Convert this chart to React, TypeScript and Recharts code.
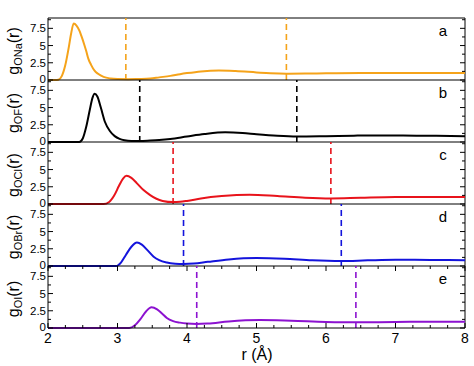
import { LineChart, Line, XAxis, YAxis, ReferenceLine } from "recharts";

// shared axis ticks
const X_TICKS = [
  2, 2.25, 2.5, 2.75, 3, 3.25, 3.5, 3.75, 4, 4.25, 4.5, 4.75, 5, 5.25, 5.5, 5.75, 6,
  6.25, 6.5, 6.75, 7, 7.25, 7.5, 7.75, 8,
];
const Y_TICKS = [0, 1.25, 2.5, 3.75, 5, 6.25, 7.5, 8.75];
const Y_LABELS = [0, 2.5, 5, 7.5];

// g_ONa(r)
const R_ONA = [2, 2.1, 2.15, 2.2, 2.25, 2.3, 2.33, 2.37, 2.41, 2.45, 2.48, 2.52, 2.55, 2.58, 2.62, 2.67, 2.72, 2.8, 2.9, 3.0, 3.15, 3.3, 3.47, 3.6, 3.76, 3.9, 4.0, 4.2, 4.46, 4.7, 5.0, 5.2, 5.43, 5.7, 6.0, 6.5, 7.0, 7.5, 8.0];
const G_ONA = [0, 0, 0.05, 0.6, 2.2, 4.8, 6.6, 8.2, 7.9, 7.2, 6.4, 5.2, 4.2, 3.1, 2.2, 1.35, 0.9, 0.45, 0.22, 0.14, 0.12, 0.15, 0.2, 0.38, 0.6, 0.85, 1.0, 1.25, 1.38, 1.3, 1.1, 0.98, 0.92, 0.93, 0.97, 1.0, 1.01, 1.0, 1.0];

// g_OF(r)
const R_OF = [2, 2.45, 2.5, 2.55, 2.6, 2.64, 2.67, 2.71, 2.76, 2.82, 2.89, 2.96, 3.03, 3.1, 3.2, 3.32, 3.47, 3.6, 3.76, 4.0, 4.25, 4.55, 4.8, 5.0, 5.3, 5.58, 6.0, 6.4, 6.8, 7.3, 8.0];
const G_OF = [0, 0, 0.5, 2.2, 4.6, 6.4, 7.0, 6.6, 5.0, 2.9, 1.6, 0.85, 0.45, 0.25, 0.15, 0.15, 0.22, 0.3, 0.45, 0.8, 1.15, 1.4, 1.3, 1.12, 0.9, 0.8, 0.85, 0.92, 0.96, 0.92, 0.85];

// g_OCl(r)
const R_OCL = [2, 2.8, 2.88, 2.95, 3.02, 3.08, 3.13, 3.2, 3.28, 3.37, 3.47, 3.56, 3.65, 3.8, 3.9, 4.0, 4.2, 4.5, 4.9, 5.3, 5.7, 6.07, 6.5, 7.0, 7.5, 8.0];
const G_OCL = [0, 0, 0.3, 1.2, 2.6, 3.7, 4.1, 3.8, 3.0, 2.06, 1.3, 0.76, 0.45, 0.28, 0.32, 0.45, 0.8, 1.15, 1.35, 1.15, 0.9, 0.8, 0.9, 1.0, 1.02, 1.0];

// g_OBr(r)
const R_OBR = [2, 2.98, 3.05, 3.12, 3.2, 3.28, 3.35, 3.43, 3.52, 3.6, 3.71, 3.83, 3.95, 4.1, 4.3, 4.6, 5.0, 5.4, 5.8, 6.22, 6.6, 7.0, 7.5, 8.0];
const G_OBR = [0, 0, 0.5, 1.6, 2.8, 3.4, 3.1, 2.3, 1.35, 0.85, 0.5, 0.33, 0.28, 0.35, 0.6, 0.95, 1.15, 1.05, 0.82, 0.72, 0.82, 0.9, 0.88, 0.85];

// g_OI(r)
const R_OI = [2, 3.17, 3.25, 3.33, 3.41, 3.49, 3.57, 3.64, 3.71, 3.8, 3.9, 4.0, 4.14, 4.3, 4.6, 5.05, 5.5, 6.0, 6.43, 7.0, 7.5, 8.0];
const G_OI = [0, 0, 0.4, 1.3, 2.4, 3.0, 2.7, 2.1, 1.45, 1.0, 0.78, 0.65, 0.58, 0.65, 0.95, 1.15, 1.05, 0.88, 0.82, 0.88, 0.9, 0.9];

// dashed shell boundaries
const CUT_ONA = [3.12, 5.43];
const CUT_OF = [3.32, 5.58];
const CUT_OCL = [3.8, 6.07];
const CUT_OBR = [3.95, 6.22];
const CUT_OI = [4.14, 6.43];

const zip = (r: number[], g: number[]) => r.map((v, i) => ({ r: v, g: g[i] }));

const FONT = '"Liberation Sans", Arial, Helvetica, sans-serif';
const PW = 417; // plot width
const PH = 62; // plot height
const TOP = 18;

const XTick = (props: any) => {
  const { x, y, payload, showLabel } = props;
  const v = payload.value;
  const major = Number.isInteger(v);
  const len = major ? 5 : 3;
  return (
    <g>
      <line x1={x} x2={x} y1={y} y2={y - len} stroke="#000" />
      <line x1={x} x2={x} y1={y - PH} y2={y - PH + len} stroke="#000" />
      {showLabel && major && (
        <text x={x} y={y + 15} textAnchor="middle" fontSize={14} fontFamily={FONT} fill="#000">
          {v}
        </text>
      )}
    </g>
  );
};

const YTick = (props: any) => {
  const { x, y, payload } = props;
  const v = payload.value;
  const major = Y_LABELS.includes(v);
  const len = major ? 5 : 3;
  // the 0 label sits a little above the panel edge, as in the original
  const shift = v === 0 ? -1.5 : 0;
  return (
    <g>
      <line x1={x} x2={x + len} y1={y} y2={y} stroke="#000" />
      <line x1={x + PW} x2={x + PW - len} y1={y} y2={y} stroke="#000" />
      {major && (
        <text x={x - 2} y={y + shift} dy="0.36em" textAnchor="end" fontSize={11.5} fontFamily={FONT} fill="#000">
          {v}
        </text>
      )}
    </g>
  );
};

const YTitle = ({ sub }: { sub: string }) => {
  const cx = 19;
  const cy = PH / 2 + 2;
  return (
    <text
      x={cx}
      y={cy}
      transform={`rotate(-90 ${cx} ${cy})`}
      textAnchor="middle"
      fontSize={16}
      fontFamily={FONT}
      fill="#000"
    >
      g
      <tspan fontSize={11} dy={3}>
        {sub}
      </tspan>
      <tspan dy={-3}>(r)</tspan>
    </text>
  );
};

const Letter = ({ letter }: { letter: string }) => (
  <text x={443} y={18} textAnchor="middle" fontSize={15} fontFamily={FONT} fill="#000">
    {letter}
  </text>
);

const XTitle = () => (
  <text x={257} y={94} textAnchor="middle" fontSize={16} fontFamily={FONT} fill="#000">
    r (Å)
  </text>
);

type PanelProps = {
  r: number[];
  g: number[];
  cuts: number[];
  color: string;
  sub: string;
  letter: string;
  last?: boolean;
};

const Panel = ({ r, g, cuts, color, sub, letter, last }: PanelProps) => (
  <LineChart
    width={474}
    height={last ? 100 : PH}
    data={zip(r, g)}
    margin={{ top: 0, right: 9, left: 0, bottom: 0 }}
  >
    <XAxis
      type="number"
      dataKey="r"
      domain={[2, 8]}
      ticks={X_TICKS}
      interval={0}
      height={last ? 38 : 0}
      tickSize={0}
      tickMargin={0}
      tickLine={false}
      axisLine={{ stroke: "#000" }}
      tick={<XTick showLabel={!!last} />}
      label={last ? <XTitle /> : undefined}
    />
    <YAxis
      type="number"
      domain={[0, 9]}
      ticks={Y_TICKS}
      interval={0}
      width={48}
      tickSize={0}
      tickMargin={0}
      tickLine={false}
      axisLine={{ stroke: "#000" }}
      tick={<YTick />}
      label={<YTitle sub={sub} />}
    />
    <ReferenceLine y={9} stroke="#000" label={<Letter letter={letter} />} />
    <ReferenceLine x={8} stroke="#000" />
    {cuts.map((c) => (
      <ReferenceLine key={c} x={c} stroke={color} strokeWidth={1.6} strokeDasharray="6 4" />
    ))}
    <Line
      type="monotone"
      dataKey="g"
      stroke={color}
      strokeWidth={2}
      dot={false}
      isAnimationActive={false}
    />
  </LineChart>
);

const PANELS: PanelProps[] = [
  { r: R_ONA, g: G_ONA, cuts: CUT_ONA, color: "#F5A31A", sub: "ONa", letter: "a" },
  { r: R_OF, g: G_OF, cuts: CUT_OF, color: "#000000", sub: "OF", letter: "b" },
  { r: R_OCL, g: G_OCL, cuts: CUT_OCL, color: "#E8131B", sub: "OCl", letter: "c" },
  { r: R_OBR, g: G_OBR, cuts: CUT_OBR, color: "#1414DC", sub: "OBr", letter: "d" },
  { r: R_OI, g: G_OI, cuts: CUT_OI, color: "#8C12D0", sub: "OI", letter: "e", last: true },
];

export default function App() {
  return (
    <div style={{ position: "absolute", left: 0, top: 0, width: 474, height: 366, background: "#fff" }}>
      <style>{`svg { overflow: visible; }`}</style>
      {PANELS.map((p, i) => (
        <div key={p.letter} style={{ position: "absolute", left: 0, top: TOP + i * PH }}>
          <Panel {...p} />
        </div>
      ))}
    </div>
  );
}
